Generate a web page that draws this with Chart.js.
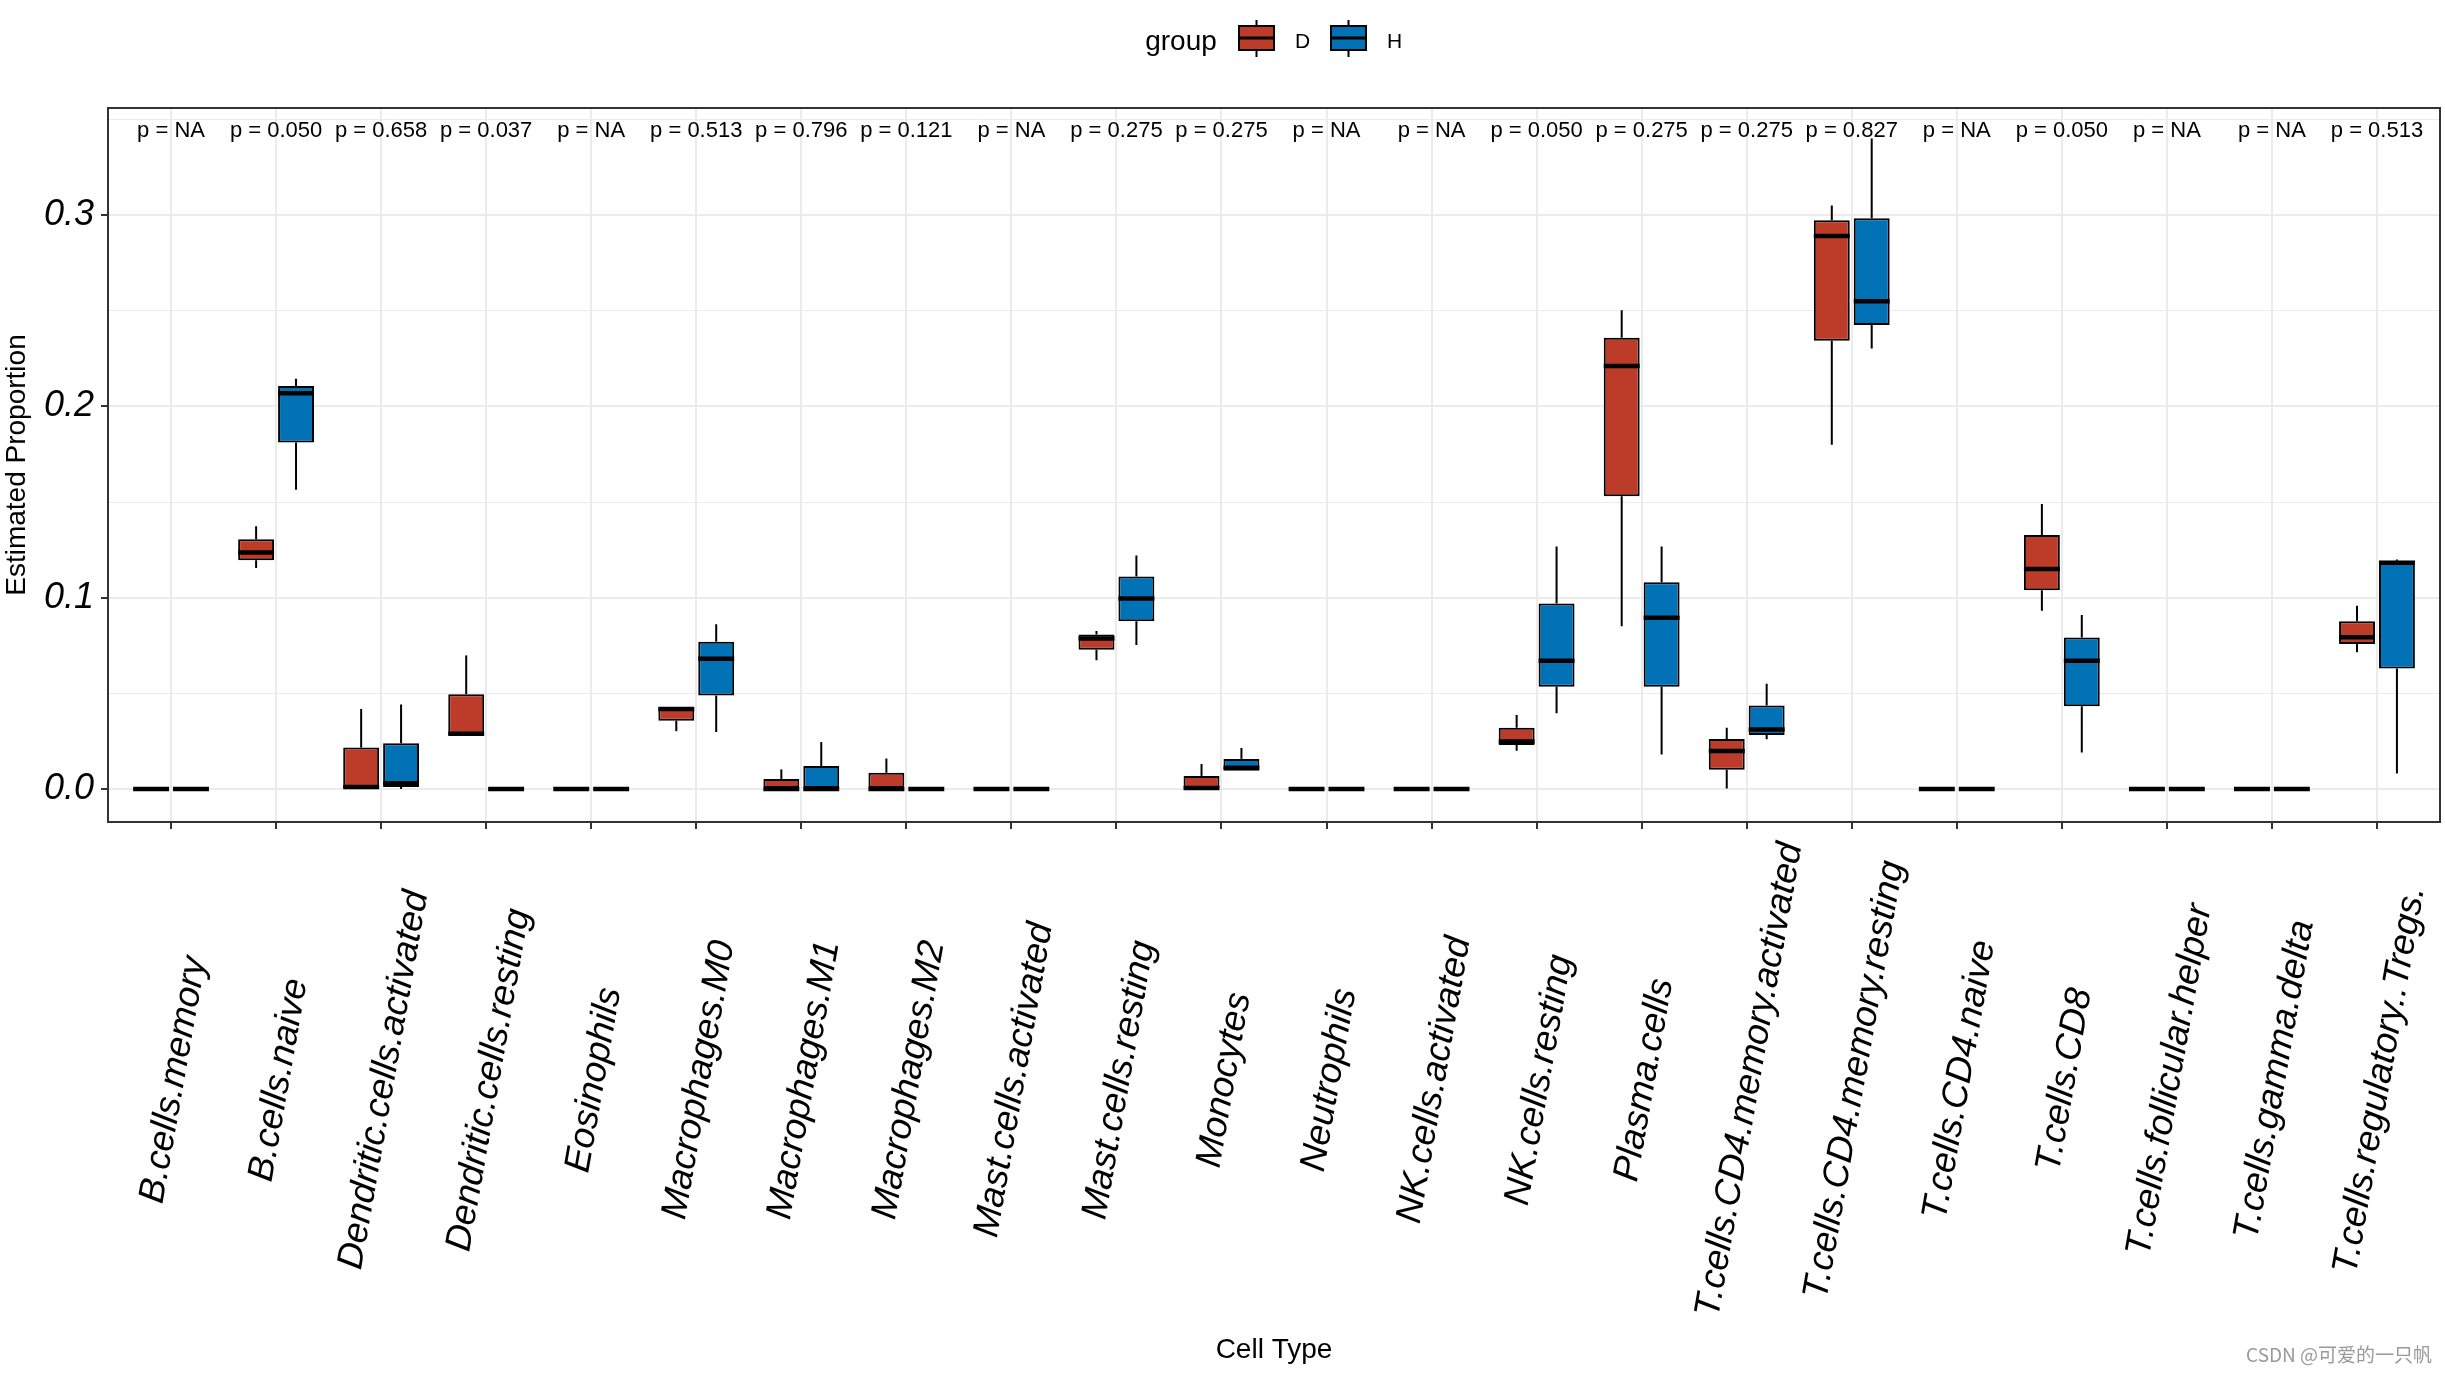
<!DOCTYPE html>
<html>
<head>
<meta charset="utf-8">
<script src="https://cdn.jsdelivr.net/npm/chart.js@4/dist/chart.umd.min.js"></script>
<style>
  body { margin: 0; background: #fff; }
  canvas { display: block; }
</style>
</head>
<body>
<canvas id="cell-chart" width="2445" height="1373"></canvas>
<script>
const categories = ['B.cells.memory', 'B.cells.naive', 'Dendritic.cells.activated', 'Dendritic.cells.resting',
   'Eosinophils', 'Macrophages.M0', 'Macrophages.M1', 'Macrophages.M2', 'Mast.cells.activated',
   'Mast.cells.resting', 'Monocytes', 'Neutrophils', 'NK.cells.activated', 'NK.cells.resting',
   'Plasma.cells', 'T.cells.CD4.memory.activated', 'T.cells.CD4.memory.resting', 'T.cells.CD4.naive',
   'T.cells.CD8', 'T.cells.follicular.helper', 'T.cells.gamma.delta', 'T.cells.regulatory..Tregs.']

const pLabels = ['p = NA', 'p = 0.050', 'p = 0.658', 'p = 0.037', 'p = NA', 'p = 0.513', 'p = 0.796',
   'p = 0.121', 'p = NA', 'p = 0.275', 'p = 0.275', 'p = NA', 'p = NA', 'p = 0.050', 'p = 0.275',
   'p = 0.275', 'p = 0.827', 'p = NA', 'p = 0.050', 'p = NA', 'p = NA', 'p = 0.513']

// group D
const dMin = [0, 0.1155, 0, 0.0282, 0, 0.0302, 0, 0, 0, 0.0673, 0, 0, 0, 0.020, 0.085, 0.0002, 0.180, 0, 0.0932, 0, 0, 0.0714]
const dQ1 = [0, 0.1195, 0, 0.0282, 0, 0.0357, 0, 0, 0, 0.0727, 0, 0, 0, 0.023, 0.153, 0.010, 0.2343, 0, 0.1039, 0, 0, 0.0757]
const dMed = [0, 0.1236, 0.001, 0.0289, 0, 0.0418, 0, 0, 0, 0.0786, 0.0005, 0, 0, 0.0248, 0.2211, 0.0198, 0.2891, 0, 0.115, 0, 0, 0.0793]
const dQ3 = [0, 0.1305, 0.0216, 0.0495, 0, 0.0425, 0.0052, 0.0084, 0, 0.0807, 0.0068, 0, 0, 0.032, 0.2359, 0.0261, 0.2973, 0, 0.1327, 0, 0, 0.0877]
const dMax = [0, 0.1373, 0.0418, 0.0698, 0, 0.0425, 0.0102, 0.0159, 0, 0.0825, 0.013, 0, 0, 0.0386, 0.2502, 0.032, 0.305, 0, 0.149, 0, 0, 0.0957]

// group H
const hMin = [0, 0.1564, 0, 0, 0, 0.0298, 0, 0, 0, 0.0752, 0.0095, 0, 0, 0.0395, 0.018, 0.0259, 0.2302, 0, 0.0191, 0, 0, 0.008]
const hQ1 = [0, 0.1811, 0.001, 0, 0, 0.0489, 0, 0, 0, 0.0877, 0.0095, 0, 0, 0.0534, 0.0534, 0.0282, 0.2425, 0, 0.0432, 0, 0, 0.063]
const hMed = [0, 0.2068, 0.003, 0, 0, 0.068, 0, 0, 0, 0.0995, 0.0111, 0, 0, 0.067, 0.0895, 0.0311, 0.255, 0, 0.067, 0, 0, 0.1182]
const hQ3 = [0, 0.2107, 0.0239, 0, 0, 0.077, 0.012, 0, 0, 0.1111, 0.0157, 0, 0, 0.097, 0.108, 0.0436, 0.2984, 0, 0.0791, 0, 0, 0.1193]
const hMax = [0, 0.2145, 0.0441, 0, 0, 0.0861, 0.0245, 0, 0, 0.122, 0.0214, 0, 0, 0.1268, 0.1268, 0.055, 0.340, 0, 0.0909, 0, 0, 0.120]

const yMajor = [0, 0.1, 0.2, 0.3]
const yMinor = [0.05, 0.15, 0.25, 0.35]
const pLabelY = 0.344

const groups = [
   { label: 'D', color: '#BC3C29', min: dMin, q1: dQ1, med: dMed, q3: dQ3, max: dMax },
   { label: 'H', color: '#0072B5', min: hMin, q1: hQ1, med: hMed, q3: hQ3, max: hMax }
]

const isMajor = v => yMajor.some(m => Math.abs(m - v) < 1e-9)
const FONT = "'Liberation Sans', Arial, sans-serif"

const boxPlugin = {
   id: 'boxExtras',
   beforeDatasetsDraw(chart) {
      const ctx = chart.ctx
      const y = chart.scales.y
      groups.forEach((g, d) => {
         chart.getDatasetMeta(d).data.forEach((bar, i) => {
            ctx.save()
            ctx.strokeStyle = '#000'
            ctx.lineWidth = 2
            ctx.beginPath()
            ctx.moveTo(bar.x, y.getPixelForValue(g.max[i]))
            ctx.lineTo(bar.x, y.getPixelForValue(g.q3[i]))
            ctx.moveTo(bar.x, y.getPixelForValue(g.q1[i]))
            ctx.lineTo(bar.x, y.getPixelForValue(g.min[i]))
            ctx.stroke()
            ctx.restore()
         })
      })
   },
   afterDatasetsDraw(chart) {
      const ctx = chart.ctx
      const y = chart.scales.y
      groups.forEach((g, d) => {
         chart.getDatasetMeta(d).data.forEach((bar, i) => {
            const half = bar.width / 2
            const py = y.getPixelForValue(g.med[i])
            ctx.save()
            ctx.strokeStyle = '#000'
            ctx.lineWidth = 4.5
            ctx.beginPath()
            ctx.moveTo(bar.x - half, py)
            ctx.lineTo(bar.x + half, py)
            ctx.stroke()
            ctx.restore()
         })
      })
   },
   afterDraw(chart) {
      const ctx = chart.ctx
      const x = chart.scales.x
      const y = chart.scales.y
      const area = chart.chartArea

      // panel border
      ctx.save()
      ctx.strokeStyle = '#333'
      ctx.lineWidth = 2
      ctx.strokeRect(area.left, area.top, area.right - area.left, area.bottom - area.top)
      ctx.restore()

      // p values
      ctx.save()
      ctx.fillStyle = '#000'
      ctx.font = `22px ${FONT}`
      ctx.textAlign = 'center'
      ctx.textBaseline = 'middle'
      pLabels.forEach((t, i) => ctx.fillText(t, x.getPixelForValue(i), y.getPixelForValue(pLabelY)))
      ctx.restore()

      // rotated category labels
      categories.forEach((c, i) => {
         ctx.save()
         ctx.translate(x.getPixelForValue(i) + 3, 1080)
         ctx.rotate(-80 * Math.PI / 180)
         ctx.font = `italic 36.5px ${FONT}`
         ctx.fillStyle = '#000'
         ctx.textAlign = 'center'
         ctx.textBaseline = 'middle'
         ctx.fillText(c, 0, 0)
         ctx.restore()
      })

      ctx.save()
      ctx.fillStyle = '#000'
      ctx.font = `28px ${FONT}`
      ctx.textAlign = 'center'
      ctx.textBaseline = 'middle'
      ctx.fillText('Cell Type', (area.left + area.right) / 2, 1350)

      // legend
      ctx.fillText('group', 1181, 42)
      ctx.font = `21px ${FONT}`
      ctx.textAlign = 'left'
      const keys = [{ x: 1239, tx: 1295 }, { x: 1331, tx: 1387 }]
      groups.forEach((g, k) => {
         const kx = keys[k].x
         const w = 35
         ctx.strokeStyle = '#000'
         ctx.lineWidth = 2
         ctx.beginPath()
         ctx.moveTo(kx + w / 2, 20)
         ctx.lineTo(kx + w / 2, 57)
         ctx.stroke()
         ctx.fillStyle = g.color
         ctx.fillRect(kx, 26, w, 24)
         ctx.strokeRect(kx, 26, w, 24)
         ctx.lineWidth = 3
         ctx.beginPath()
         ctx.moveTo(kx, 38)
         ctx.lineTo(kx + w, 38)
         ctx.stroke()
         ctx.fillStyle = '#000'
         ctx.fillText(g.label, keys[k].tx, 42)
      })

      // watermark
      ctx.font = "19px 'Noto Sans CJK SC', sans-serif"
      ctx.fillStyle = '#9a9a9a'
      ctx.textAlign = 'right'
      ctx.fillText('CSDN @可爱的一只帆', 2432, 1355)
      ctx.restore()
   }
}

const chartEl = document.getElementById('cell-chart')

new Chart(chartEl, {
   type: 'bar',
   data: {
      datasets: groups.map(g => ({
         label: g.label,
         data: g.q1.map((v, i) => ({ x: i, y: [v, g.q3[i]] })),
         backgroundColor: g.color,
         borderColor: '#000',
         borderWidth: 2,
         borderSkipped: false,
         categoryPercentage: 0.76,
         barPercentage: 0.9
      }))
   },
   options: {
      responsive: false,
      animation: false,
      devicePixelRatio: 1,
      layout: { padding: { top: 108, right: 5, left: 0, bottom: 0 } },
      plugins: {
         legend: { display: false },
         tooltip: { enabled: false }
      },
      scales: {
         x: {
            type: 'linear',
            min: -0.6,
            max: categories.length - 0.4,
            offset: false,
            afterBuildTicks: scale => {
               scale.ticks = categories.map((c, i) => ({ value: i }))
            },
            grid: {
               offset: false,
               color: '#EBEBEB',
               lineWidth: 2,
               tickLength: 7,
               tickColor: '#333',
               tickWidth: 2
            },
            border: { display: false },
            ticks: { display: false },
            afterFit: scale => { scale.height = 551 }
         },
         y: {
            min: -0.0173,
            max: 0.356,
            afterBuildTicks: scale => {
               scale.ticks = yMajor.concat(yMinor).sort((a, b) => a - b).map(v => ({ value: v }))
            },
            afterFit: scale => { scale.width = 108 },
            grid: {
               color: '#EBEBEB',
               lineWidth: c => isMajor(c.tick.value) ? 2 : 1,
               tickLength: 7,
               tickColor: c => isMajor(c.tick.value) ? '#333' : 'rgba(0,0,0,0)',
               tickWidth: 2
            },
            border: { display: false },
            ticks: {
               padding: 7,
               color: '#000',
               font: { family: FONT, size: 36, style: 'italic' },
               callback: v => isMajor(v) ? v.toFixed(1) : ''
            },
            title: {
               display: true,
               text: 'Estimated Proportion',
               color: '#000',
               font: { family: FONT, size: 28 },
               padding: { top: 0, bottom: 0 }
            }
         }
      }
   },
   plugins: [boxPlugin]
})
</script>
</body>
</html>
